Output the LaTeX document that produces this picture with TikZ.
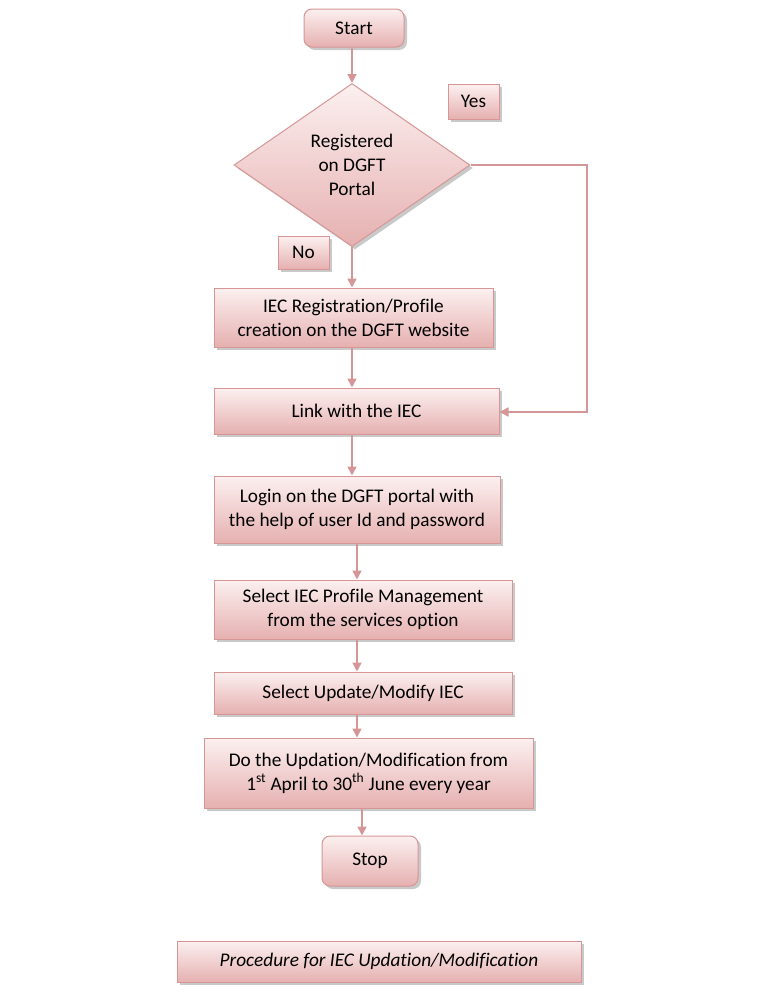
\documentclass[tikz,border=0pt]{standalone}
\usepackage{fontspec}
\setmainfont{Carlito}[Ligatures={NoCommon}]
\usetikzlibrary{shapes.geometric,shadows,arrows.meta}
\definecolor{pinktop}{RGB}{252,240,240}
\definecolor{pinkbot}{RGB}{230,176,176}
\definecolor{pinkline}{RGB}{214,150,150}
\definecolor{arrowcol}{RGB}{212,150,150}
\tikzset{
  boxbase/.style={draw=pinkline, line width=1pt, top color=pinktop, bottom color=pinkbot,
    drop shadow={shadow xshift=3pt, shadow yshift=-3pt, fill=black!35, opacity=0.6},
    align=center, inner sep=0pt, font=\fontsize{19.3}{24}\selectfont, text=black},
  procbox/.style={boxbase, rectangle},
  termbox/.style={boxbase, rectangle, rounded corners=8pt},
  decbox/.style={boxbase, diamond, aspect=1.45},
  arr/.style={draw=arrowcol, line width=1.6pt, -{Triangle[length=9pt,width=9pt]}},
}
\begin{document}
\begin{tikzpicture}[x=1pt,y=-1pt]
\useasboundingbox[fill=white] (0,0) rectangle (768,993);
\node[termbox, minimum width=100pt, minimum height=38pt] (start) at (354,28) {Start};
\node[procbox, minimum width=51pt, minimum height=35pt] (yes) at (473.5,101.5) {Yes};
\node[decbox, minimum width=236pt, minimum height=163pt] (dia) at (352,165) {Registered\\on DGFT\\Portal};
\node[procbox, minimum width=51pt, minimum height=33pt] (no) at (303.5,252.5) {No};
\node[procbox, minimum width=279pt, minimum height=59pt] (reg) at (353.5,317.5) {IEC Registration/Profile\\creation on the DGFT website};
\node[procbox, minimum width=285pt, minimum height=46pt] (link) at (356.5,411) {Link with the IEC};
\node[procbox, minimum width=286pt, minimum height=67pt] (login) at (357,509.5) {Login on the DGFT portal with\\the help of user Id and password};
\node[procbox, minimum width=298pt, minimum height=59pt] (sel) at (363,609.5) {Select IEC Profile Management\\from the services option};
\node[procbox, minimum width=298pt, minimum height=42pt] (upd) at (363,693) {Select Update/Modify IEC};
\node[procbox, minimum width=329pt, minimum height=70pt] (doit) at (368.5,773) {Do the Updation/Modification from\\1\textsuperscript{st} April to 30\textsuperscript{th} June every year};
\node[termbox, minimum width=96pt, minimum height=50pt] (stop) at (370,861) {Stop};
\node[procbox, minimum width=404pt, minimum height=41pt] (cap) at (379,961.5) {\itshape Procedure for IEC Updation/Modification};
\coordinate (c1) at (352,0);
\coordinate (c2) at (357,0);
\coordinate (c3) at (362,0);
\coordinate (yr) at (587,0);
\draw[arr] (start.south -| c1) -- (dia.north);
\draw[arr] (dia.south) -- (reg.north -| c1);
\draw[arr] (reg.south -| c1) -- (link.north -| c1);
\draw[arr] (link.south -| c1) -- (login.north -| c1);
\draw[arr] (login.south -| c2) -- (sel.north -| c2);
\draw[arr] (sel.south -| c2) -- (upd.north -| c2);
\draw[arr] (upd.south -| c2) -- (doit.north -| c2);
\draw[arr] (doit.south -| c3) -- (stop.north -| c3);
\draw[arr] (dia.east) -- (dia.east -| yr) |- ([yshift=-1pt]link.east);
\end{tikzpicture}
\end{document}
